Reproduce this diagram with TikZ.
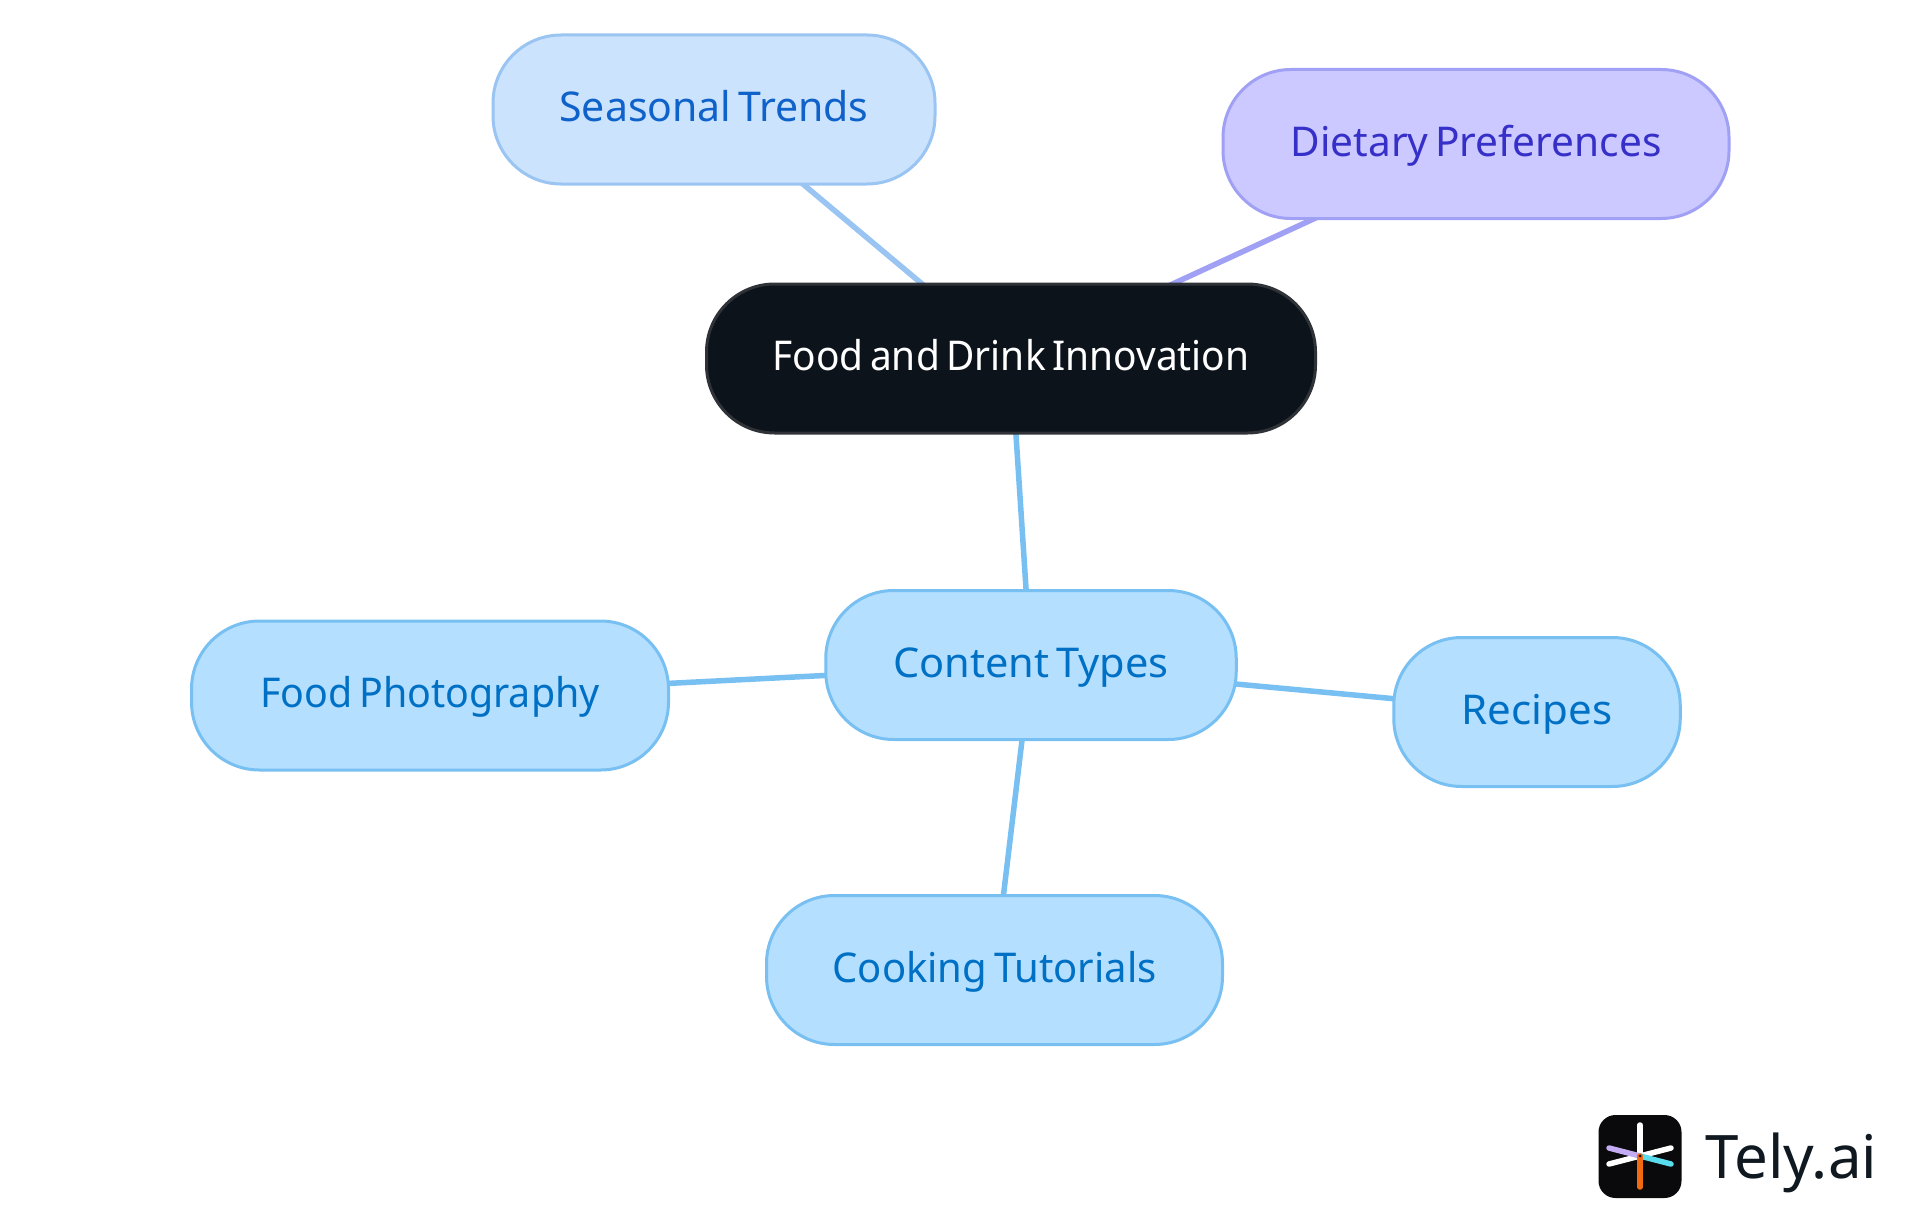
\documentclass[tikz,border=0pt]{standalone}
\usepackage{fontspec}
\setmainfont{Noto Sans}
\usetikzlibrary{backgrounds}
\definecolor{rootfill}{HTML}{0C131B}
\definecolor{rootline}{HTML}{2F3338}
\definecolor{skyfill}{HTML}{B4DFFF}
\definecolor{skyline}{HTML}{78BFF2}
\definecolor{skytext}{HTML}{0070C5}
\definecolor{bluefill}{HTML}{CCE3FD}
\definecolor{blueline}{HTML}{9AC4F1}
\definecolor{bluetext}{HTML}{0F62C9}
\definecolor{violetfill}{HTML}{CBC9FF}
\definecolor{violetline}{HTML}{A0A0F5}
\definecolor{violettext}{HTML}{3730C8}
\definecolor{logoink}{HTML}{0A0A0C}
\definecolor{logotext}{HTML}{101820}
\definecolor{logolav}{HTML}{C4ACF5}
\definecolor{logocyan}{HTML}{5ADCEF}
\definecolor{logoorange}{HTML}{F26A0F}
\newcommand{\fitlabel}[2]{\scalebox{#1}[1]{\spaceskip=.17em\relax #2}}
\tikzset{
  pill/.style={rounded corners=68pt, line width=3pt, inner sep=0pt, minimum height=149pt,
    text height=33pt, text depth=9pt, font=\fontsize{41}{46}\selectfont},
  rootpill/.style={pill, draw=rootline, fill=rootfill, text=white},
  skypill/.style={pill, draw=skyline, fill=skyfill, text=skytext},
  bluepill/.style={pill, draw=blueline, fill=bluefill, text=bluetext},
  violetpill/.style={pill, draw=violetline, fill=violetfill, text=violettext},
  link/.style={line width=5.5pt},
  spoke/.style={line width=5.5pt, line cap=round}
}
\begin{document}
\begin{tikzpicture}[x=1pt,y=-1pt]
\useasboundingbox (0,0) rectangle (1920,1215);
\node[rootpill, minimum width=609pt] (root) at (1011,358.5) {\fitlabel{0.948}{Food and Drink Innovation}};
\node[bluepill, minimum width=442pt] (seasonal) at (714,109.5) {\fitlabel{1.0}{Seasonal Trends}};
\node[violetpill, minimum width=506pt] (dietary) at (1476,144) {\fitlabel{0.99}{Dietary Preferences}};
\node[skypill, minimum width=410.5pt] (content) at (1031,665) {\fitlabel{1.013}{Content Types}};
\node[skypill, minimum width=477pt] (photo) at (430,695.5) {\fitlabel{0.96}{Food Photography}};
\node[skypill, minimum width=286.5pt] (recipes) at (1537,712) {\fitlabel{1.025}{Recipes}};
\node[skypill, minimum width=456pt] (cooking) at (994.5,970) {\fitlabel{0.976}{Cooking Tutorials}};
\begin{scope}[on background layer]
\draw[link, blueline] (seasonal.center) -- (root.center);
\draw[link, violetline] (dietary.center) -- (root.center);
\draw[link, skyline] (root.center) -- (content.center);
\draw[link, skyline] (content.center) -- (photo.center);
\draw[link, skyline] (content.center) -- (recipes.center);
\draw[link, skyline] (content.center) -- (cooking.center);
\end{scope}
% logo
\node[fill=logoink, rounded corners=17pt, minimum size=83pt, inner sep=0pt] (logo) at (1640,1156.5) {};
\coordinate (hub) at (1640,1156);
\coordinate (up) at (1640,1125);
\coordinate (down) at (1640,1187);
\coordinate (ul) at (1609,1148);
\coordinate (ur) at (1671,1148);
\coordinate (dl) at (1609,1164);
\coordinate (dr) at (1671,1164);
\draw[spoke, white] (hub) -- (up);
\draw[spoke, white] (hub) -- (ur);
\draw[spoke, white] (hub) -- (dl);
\draw[spoke, logolav] (hub) -- (ul);
\draw[spoke, logocyan] (hub) -- (dr);
\draw[spoke, logoorange] (hub) -- (down);
\node[fill=logoink, circle, minimum size=3pt, inner sep=0pt] (hubdot) at (hub) {};
\node[anchor=base west, inner sep=0pt, text=logotext, font=\fontsize{60}{70}\selectfont] (brand) at (1705,1178) {Tely.ai};
\end{tikzpicture}
\end{document}
